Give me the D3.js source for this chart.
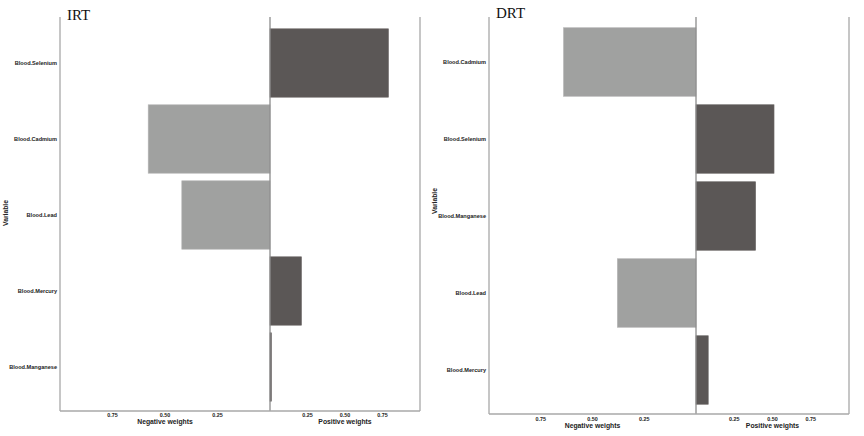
<!DOCTYPE html>
<html>
<head>
<meta charset="utf-8">
<script src="https://cdn.jsdelivr.net/npm/d3@7"></script>
<style>
  body { margin: 0; background: #fff; }
  svg { display: block; }
  .tick-lab { font-family: "Liberation Sans", Arial, sans-serif; font-weight: bold; fill: #222; }
  .title { font-family: "Liberation Serif", "Times New Roman", serif; fill: #111; }
</style>
</head>
<body>
<div id="chart"></div>
<script>
// IRT panel
const irtVars = ['Blood.Selenium', 'Blood.Cadmium', 'Blood.Lead', 'Blood.Mercury', 'Blood.Manganese'];
const irtWeights = [0.79, -0.58, -0.42, 0.21, 0.01];

// DRT panel
const drtVars = ['Blood.Cadmium', 'Blood.Selenium', 'Blood.Manganese', 'Blood.Lead', 'Blood.Mercury'];
const drtWeights = [-0.64, 0.51, 0.39, -0.38, 0.08];

const weightTicks = [0.25, 0.5, 0.75];
const tickLabels = ['0.25', '0.50', '0.75'];

const width = 864, height = 436;
const svg = d3.select('#chart').append('svg')
    .attr('width', width)
    .attr('height', height);

function drawPanel(cfg) {
    const g = svg.append('g');
    const rows = cfg.vars.map((v, i) => ({ name: v, w: cfg.weights[i] }));

    const y = d3.scaleBand()
        .domain(cfg.vars)
        .range([cfg.bandTop, cfg.bandBottom])
        .paddingInner(cfg.pad)
        .paddingOuter(cfg.pad / 2);

    const xNeg = d3.scaleLinear().domain([0, 1]).range([cfg.xMid, cfg.x0]);
    const xPos = d3.scaleLinear().domain([0, 1]).range([cfg.xMid, cfg.x1]);

    // bars
    g.selectAll('rect.bar')
        .data(rows)
        .enter()
        .append('rect')
        .attr('class', 'bar')
        .attr('x', d => d.w < 0 ? xNeg(-d.w) : xPos(0))
        .attr('width', d => d.w < 0 ? xNeg(0) - xNeg(-d.w) : xPos(d.w) - xPos(0))
        .attr('y', d => y(d.name))
        .attr('height', y.bandwidth())
        .attr('fill', d => d.w < 0 ? '#a0a1a0' : '#5b5756')
        .attr('stroke', d => d.w < 0 ? '#b4b4b4' : '#6e6a69')
        .attr('stroke-width', 0.6);

    // frame lines
    const lineCol = '#a8a8a8';
    g.append('line').attr('x1', cfg.x0).attr('x2', cfg.x0).attr('y1', cfg.top).attr('y2', cfg.bottom)
        .attr('stroke', lineCol).attr('stroke-width', 1.3);
    g.append('line').attr('x1', cfg.x1).attr('x2', cfg.x1).attr('y1', cfg.top).attr('y2', cfg.bottom)
        .attr('stroke', lineCol).attr('stroke-width', 1.3);
    g.append('line').attr('x1', cfg.xMid).attr('x2', cfg.xMid).attr('y1', cfg.top).attr('y2', cfg.bottom)
        .attr('stroke', '#8c8c8c').attr('stroke-width', 1.3);
    g.append('line').attr('x1', cfg.x0).attr('x2', cfg.x1).attr('y1', cfg.bottom).attr('y2', cfg.bottom)
        .attr('stroke', lineCol).attr('stroke-width', 1.3);

    // y labels
    g.selectAll('text.ylab')
        .data(cfg.vars)
        .enter()
        .append('text')
        .attr('class', 'tick-lab')
        .attr('x', cfg.x0 - 3)
        .attr('y', d => y(d) + y.bandwidth() / 2)
        .attr('dy', '0.35em')
        .attr('text-anchor', 'end')
        .style('font-size', '5.6px')
        .text(d => d);

    // x tick labels on both halves
    [xNeg, xPos].forEach(sc => {
        g.selectAll(null)
            .data(weightTicks)
            .enter()
            .append('text')
            .attr('class', 'tick-lab')
            .attr('x', d => sc(d))
            .attr('y', cfg.tickY)
            .attr('dy', '0.35em')
            .attr('text-anchor', 'middle')
            .style('font-size', '5.4px')
            .text((d, i) => tickLabels[i]);
    });

    g.append('text')
        .attr('class', 'tick-lab')
        .attr('x', (cfg.x0 + cfg.xMid) / 2)
        .attr('y', cfg.titleY)
        .attr('dy', '0.35em')
        .attr('text-anchor', 'middle')
        .style('font-size', '6.8px')
        .text('Negative weights');

    g.append('text')
        .attr('class', 'tick-lab')
        .attr('x', (cfg.xMid + cfg.x1) / 2)
        .attr('y', cfg.titleY)
        .attr('dy', '0.35em')
        .attr('text-anchor', 'middle')
        .style('font-size', '6.8px')
        .text('Positive weights');

    g.append('text')
        .attr('class', 'tick-lab')
        .attr('transform', `translate(${cfg.varX},${cfg.varY}) rotate(-90)`)
        .attr('dy', '0.35em')
        .attr('text-anchor', 'middle')
        .style('font-size', '6.8px')
        .text('Variable');

    g.append('text')
        .attr('class', 'title')
        .attr('x', cfg.x0 + 7)
        .attr('y', cfg.headY)
        .style('font-size', '15px')
        .text(cfg.title);
}

drawPanel({
    title: 'IRT', vars: irtVars, weights: irtWeights,
    x0: 60, xMid: 270, x1: 420, top: 17, bottom: 411,
    bandTop: 25, bandBottom: 405, pad: 0.1,
    tickY: 415, titleY: 422, varX: 6, varY: 213, headY: 20
});

drawPanel({
    title: 'DRT', vars: drtVars, weights: drtWeights,
    x0: 489, xMid: 696, x1: 849, top: 17, bottom: 414,
    bandTop: 23.5, bandBottom: 408.5, pad: 0.11,
    tickY: 419, titleY: 425.5, varX: 435, varY: 201, headY: 18
});
</script>
</body>
</html>
